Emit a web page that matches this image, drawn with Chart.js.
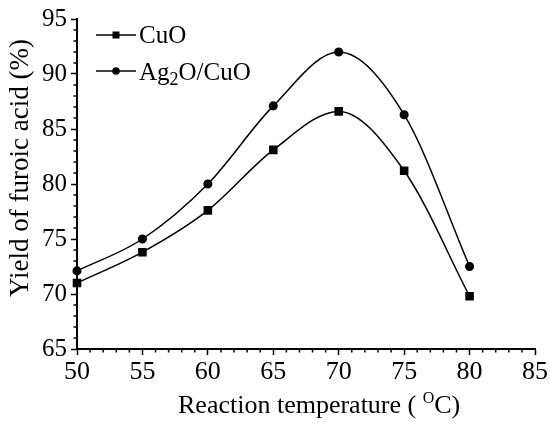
<!DOCTYPE html>
<html>
<head>
<meta charset="utf-8">
<script src="https://cdn.jsdelivr.net/npm/chart.js@4"></script>
<style>
  html, body { margin: 0; padding: 0; background: #fff; }
  #wrap { width: 550px; height: 425px; }
</style>
</head>
<body>
<div id="wrap"><canvas id="chart"></canvas></div>
<script>
const temperatures = [50, 55, 60, 65, 70, 75, 80];
const cuoYield = [71.0, 73.8, 77.6, 83.1, 86.6, 81.2, 69.8];
const agCuoYield = [72.1, 75.0, 80.0, 87.1, 92.0, 86.3, 72.5];
const xTicks = [50, 55, 60, 65, 70, 75, 80, 85];
const yTicks = [65, 70, 75, 80, 85, 90, 95];

const FONT = 'Liberation Serif, Times New Roman, serif';

function toPoints(xs, ys) {
    return xs.map((x, i) => ({ x: x, y: ys[i] }));
}

// minor ticks, axis titles and the legend
const decorations = {
    id: 'decorations',
    afterDraw(chart) {
        const ctx = chart.ctx;
        const xs = chart.scales.x;
        const ys = chart.scales.y;
        const area = chart.chartArea;
        ctx.save();
        ctx.strokeStyle = '#000';
        ctx.lineWidth = 1.5;
        ctx.beginPath();
        for (let v = xs.min; v <= xs.max; v++) {
            if (v % 5 === 0) continue;
            const px = xs.getPixelForValue(v);
            ctx.moveTo(px, area.bottom);
            ctx.lineTo(px, area.bottom + 3.5);
        }
        for (let v = ys.min; v <= ys.max; v++) {
            if (v % 5 === 0) continue;
            const py = ys.getPixelForValue(v);
            ctx.moveTo(area.left, py);
            ctx.lineTo(area.left - 3.5, py);
        }
        ctx.stroke();

        ctx.fillStyle = '#000';
        ctx.textBaseline = 'alphabetic';

        // x title with superscript o
        ctx.font = '26px ' + FONT;
        let tx = 178;
        const ty = 413;
        const part1 = 'Reaction temperature ( ';
        ctx.fillText(part1, tx, ty);
        tx += ctx.measureText(part1).width;
        ctx.font = '16px ' + FONT;
        ctx.fillText('O', tx, ty - 10);
        tx += ctx.measureText('O').width;
        ctx.font = '26px ' + FONT;
        ctx.fillText('C)', tx, ty);

        // y title
        ctx.save();
        ctx.translate(28, 168);
        ctx.rotate(-Math.PI / 2);
        ctx.textAlign = 'center';
        ctx.font = '27px ' + FONT;
        ctx.fillText('Yield of furoic acid (%)', 0, 0);
        ctx.restore();

        // legend
        const rows = [
            { y: 35, base: 43, style: 'rect', parts: [['CuO', 0]] },
            { y: 71, base: 80, style: 'circle', parts: [['Ag', 0], ['2', 5], ['O/CuO', 0]] }
        ];
        rows.forEach(r => {
            ctx.beginPath();
            ctx.lineWidth = 1.5;
            ctx.moveTo(96, r.y);
            ctx.lineTo(136, r.y);
            ctx.stroke();
            if (r.style === 'rect') {
                ctx.fillRect(112.5, r.y - 3.5, 7, 7);
            } else {
                ctx.beginPath();
                ctx.arc(116, r.y, 3.8, 0, Math.PI * 2);
                ctx.fill();
            }
            let lx = 139;
            r.parts.forEach(p => {
                ctx.font = (p[1] ? '18px ' : '25px ') + FONT;
                ctx.fillText(p[0], lx, r.base + p[1]);
                lx += ctx.measureText(p[0]).width;
            });
        });
        ctx.restore();
    }
};

const ctx = document.getElementById('chart').getContext('2d');

const myChart = new Chart(ctx, { // eslint-disable-line
    type: 'line',
    data: {
        datasets: [
            {
                label: 'CuO',
                data: toPoints(temperatures, cuoYield),
                borderColor: '#000',
                backgroundColor: '#000',
                borderWidth: 1.5,
                pointStyle: 'rect',
                pointRadius: 5,
                cubicInterpolationMode: 'monotone',
                clip: false
            },
            {
                label: 'Ag2O/CuO',
                data: toPoints(temperatures, agCuoYield),
                borderColor: '#000',
                backgroundColor: '#000',
                borderWidth: 1.5,
                pointStyle: 'circle',
                pointRadius: 3.8,
                cubicInterpolationMode: 'monotone',
                clip: false
            }
        ]
    },
    plugins: [decorations],
    options: {
        responsive: true,
        maintainAspectRatio: false,
        animation: false,
        layout: { padding: { top: 13, right: 15, left: 0, bottom: 0 } },
        plugins: {
            legend: { display: false },
            tooltip: { enabled: false }
        },
        scales: {
            x: {
                type: 'linear',
                min: 50,
                max: 85,
                afterFit(scale) { scale.height = 76; },
                afterBuildTicks(scale) { scale.ticks = xTicks.map(v => ({ value: v })); },
                ticks: {
                    color: '#000',
                    font: { family: FONT, size: 26 },
                    padding: 2,
                    maxRotation: 0
                },
                grid: {
                    drawOnChartArea: false,
                    drawTicks: true,
                    tickLength: 6,
                    tickColor: '#000',
                    tickWidth: 1.5
                },
                border: { color: '#000', width: 2 }
            },
            y: {
                min: 65,
                max: 95,
                afterFit(scale) { scale.width = 77; },
                afterBuildTicks(scale) { scale.ticks = yTicks.map(v => ({ value: v })); },
                ticks: {
                    color: '#000',
                    font: { family: FONT, size: 25 },
                    padding: 4
                },
                grid: {
                    drawOnChartArea: false,
                    drawTicks: true,
                    tickLength: 6,
                    tickColor: '#000',
                    tickWidth: 1.5
                },
                border: { color: '#000', width: 2 }
            }
        }
    }
});
</script>
</body>
</html>
